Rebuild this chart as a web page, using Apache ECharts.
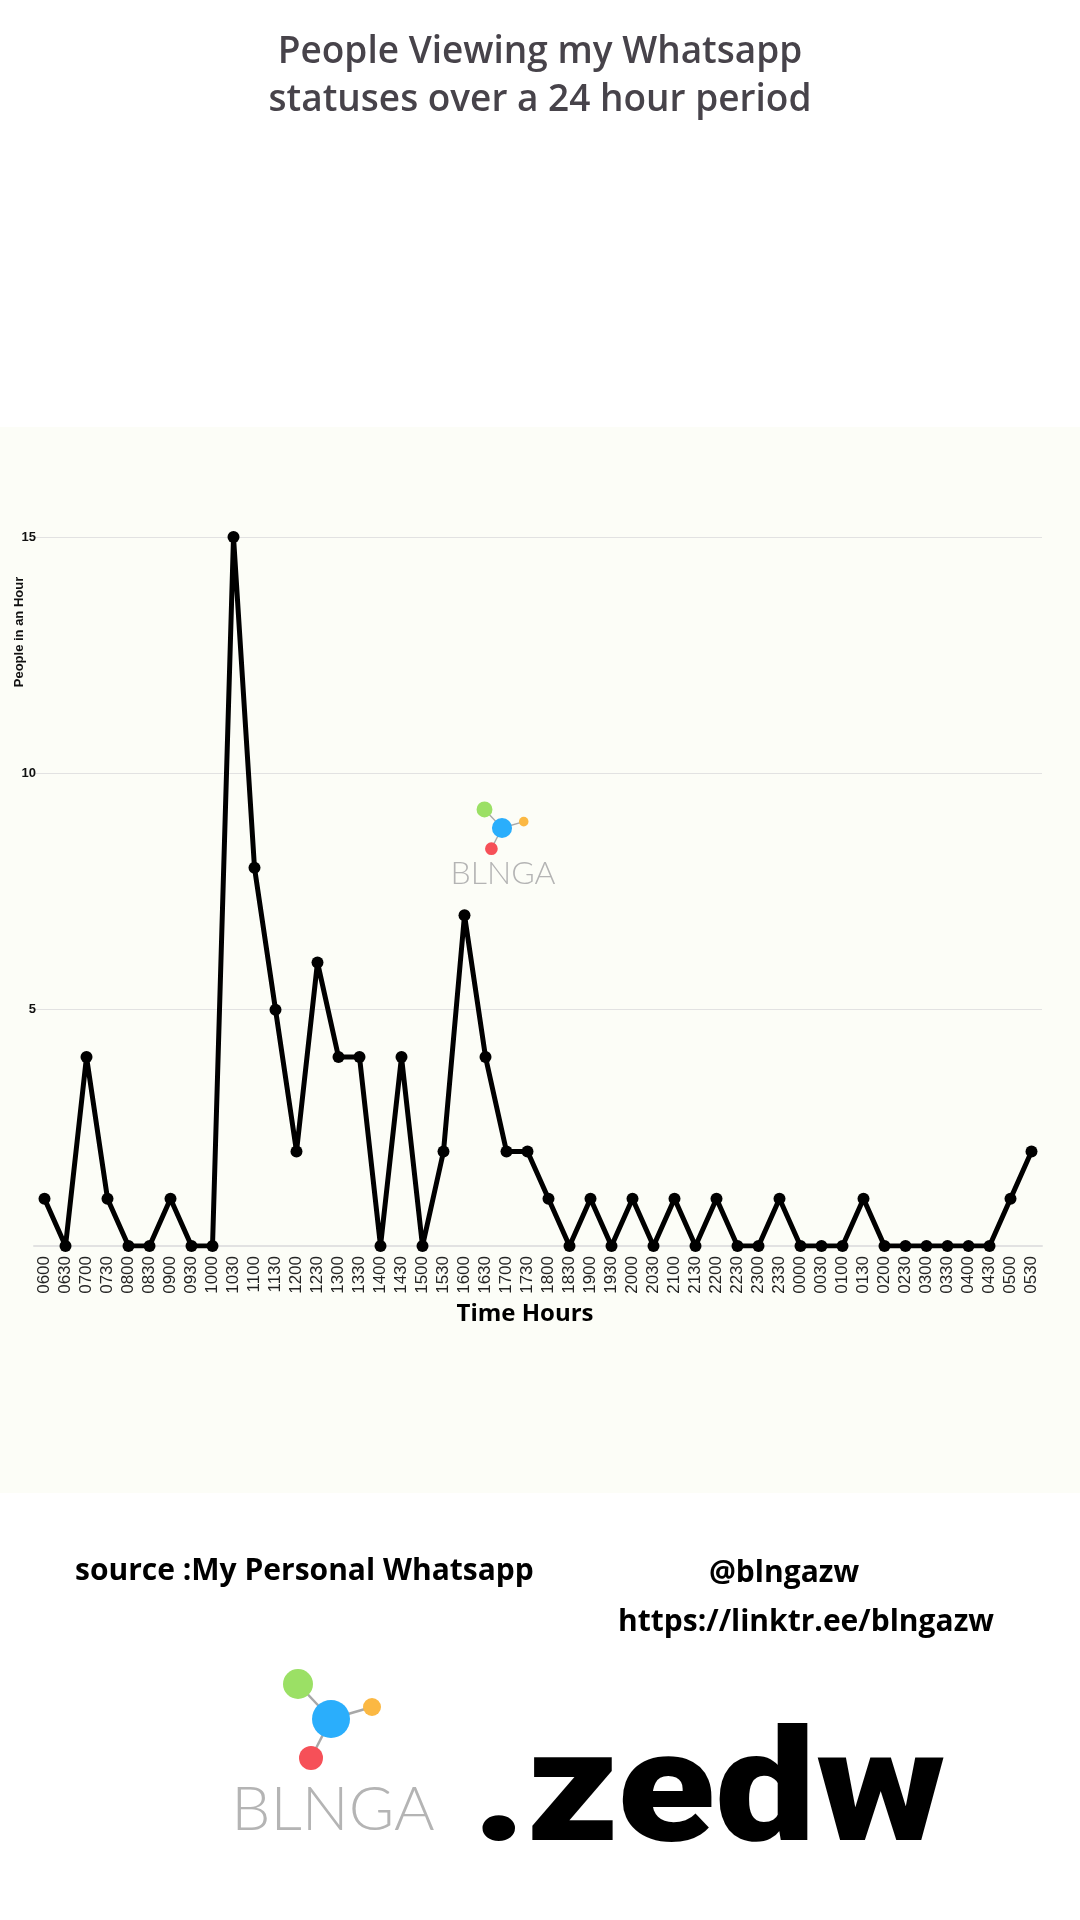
<!DOCTYPE html>
<html>
<head>
<meta charset="utf-8">
<title>People Viewing my Whatsapp statuses</title>
<script src="https://cdn.jsdelivr.net/npm/echarts@6/dist/echarts.min.js"></script>
<style>
  html, body { margin: 0; padding: 0; background: #fff; }
  #myChart { width: 1080px; height: 1920px; }
</style>
</head>
<body>
<div id="myChart"></div>
<script>
// half-hour slots, starting 06:00
var timeSlots = ['0600', '0630', '0700', '0730', '0800', '0830', '0900', '0930', '1000', '1030',
  '1100', '1130', '1200', '1230', '1300', '1330', '1400', '1430', '1500', '1530',
  '1600', '1630', '1700', '1730', '1800', '1830', '1900', '1930', '2000', '2030',
  '2100', '2130', '2200', '2230', '2300', '2330', '0000', '0030', '0100', '0130',
  '0200', '0230', '0300', '0330', '0400', '0430', '0500', '0530']
var viewers = [1, 0, 4, 1, 0, 0, 1, 0, 0, 15,
  8, 5, 2, 6, 4, 4, 0, 4, 0, 2,
  7, 4, 2, 2, 1, 0, 1, 0, 1, 0,
  1, 0, 1, 0, 0, 1, 0, 0, 0, 1,
  0, 0, 0, 0, 0, 0, 1, 2]

var myChart = echarts.init(document.getElementById('myChart'))

// little molecule logo (decoration)
function logo (cx, cy, s, label, fontSize, textY) {
  var lineStyle = { stroke: '#a8a8a8', lineWidth: 2.5 * s }
  return [
    { type: 'line', shape: { x1: cx - 33 * s, y1: cy - 35 * s, x2: cx, y2: cy }, style: lineStyle },
    { type: 'line', shape: { x1: cx, y1: cy, x2: cx + 41 * s, y2: cy - 12 * s }, style: lineStyle },
    { type: 'line', shape: { x1: cx, y1: cy, x2: cx - 20 * s, y2: cy + 39 * s }, style: lineStyle },
    { type: 'circle', shape: { cx: cx - 33 * s, cy: cy - 35 * s, r: 15 * s }, style: { fill: '#9be065' } },
    { type: 'circle', shape: { cx: cx, cy: cy, r: 19 * s }, style: { fill: '#2aaefc' } },
    { type: 'circle', shape: { cx: cx + 41 * s, cy: cy - 12 * s, r: 9 * s }, style: { fill: '#fbb843' } },
    { type: 'circle', shape: { cx: cx - 20 * s, cy: cy + 39 * s, r: 12 * s }, style: { fill: '#f65058' } },
    {
      type: 'text', x: cx + 2 * s, y: textY,
      style: { text: label, fill: '#b4b4b4', font: '300 ' + fontSize + 'px Lato, "Open Sans", sans-serif', textAlign: 'center', textVerticalAlign: 'middle' }
    }
  ]
}

var graphics = [
  { type: 'rect', z: -10, shape: { x: 0, y: 427, width: 1080, height: 1066 }, style: { fill: '#fcfdf7' } },
  {
    type: 'text', x: 19, y: 632, rotation: Math.PI / 2,
    style: { text: 'People in an Hour', fill: '#111', font: 'bold 13px "Liberation Sans", Arial, sans-serif', textAlign: 'center', textVerticalAlign: 'middle' }
  },
  {
    type: 'text', x: 75, y: 1571,
    style: { text: 'source :My Personal Whatsapp', fill: '#000', font: 'bold 30px "Open Sans", sans-serif', textAlign: 'left', textVerticalAlign: 'middle' }
  },
  {
    type: 'text', x: 784, y: 1573,
    style: { text: '@blngazw', fill: '#000', font: 'bold 30px "Open Sans", sans-serif', textAlign: 'center', textVerticalAlign: 'middle' }
  },
  {
    type: 'text', x: 806, y: 1622,
    style: { text: 'https://linktr.ee/blngazw', fill: '#000', font: 'bold 30px "Open Sans", sans-serif', textAlign: 'center', textVerticalAlign: 'middle' }
  },
  {
    type: 'text', x: 709, y: 1801, scaleX: 1.155,
    style: { text: '.zedw', fill: '#000', font: '900 155px Roboto, "DejaVu Sans", sans-serif', textAlign: 'center', textVerticalAlign: 'middle' }
  }
]
graphics = graphics.concat(logo(331, 1719, 1, 'BLNGA', 62, 1810))
graphics = graphics.concat(logo(502, 828, 0.53, 'BLNGA', 32, 874))

myChart.setOption({
  backgroundColor: '#ffffff',
  animation: false,
  title: {
    text: 'People Viewing my Whatsapp\nstatuses over a 24 hour period',
    left: 'center',
    top: 23,
    textStyle: {
      color: '#47434a',
      fontFamily: '"Open Sans", sans-serif',
      fontWeight: 600,
      fontSize: 37,
      lineHeight: 48
    }
  },
  graphic: graphics,
  grid: {
    left: 34,
    right: 38,
    top: 537,
    bottom: 674,
    containLabel: false
  },
  xAxis: {
    type: 'category',
    data: timeSlots,
    boundaryGap: true,
    name: 'Time Hours',
    nameLocation: 'middle',
    nameGap: 56,
    nameTextStyle: {
      color: '#000',
      fontFamily: '"Open Sans", sans-serif',
      fontWeight: 'bold',
      fontSize: 24,
      padding: [0, 26, 0, 0]
    },
    axisLine: { show: true, lineStyle: { color: '#e2e2e2', width: 2 } },
    axisTick: { show: false },
    axisLabel: {
      interval: 0,
      rotate: 90,
      margin: 10,
      color: '#222',
      fontFamily: '"Liberation Sans", Arial, sans-serif',
      fontSize: 17
    }
  },
  yAxis: {
    type: 'value',
    min: 0,
    max: 15,
    interval: 5,
    axisLine: { show: false },
    axisTick: { show: false },
    splitLine: { lineStyle: { color: '#e2e2e2', width: 1 } },
    axisLabel: {
      margin: -2,
      color: '#111',
      fontWeight: 'bold',
      fontFamily: '"Liberation Sans", Arial, sans-serif',
      fontSize: 13,
      formatter: function (v) { return v === 0 ? '' : v }
    }
  },
  series: [
    {
      type: 'line',
      data: viewers,
      symbol: 'circle',
      symbolSize: 12,
      lineStyle: { color: '#000', width: 5 },
      itemStyle: { color: '#000' }
    }
  ]
})
</script>
</body>
</html>
